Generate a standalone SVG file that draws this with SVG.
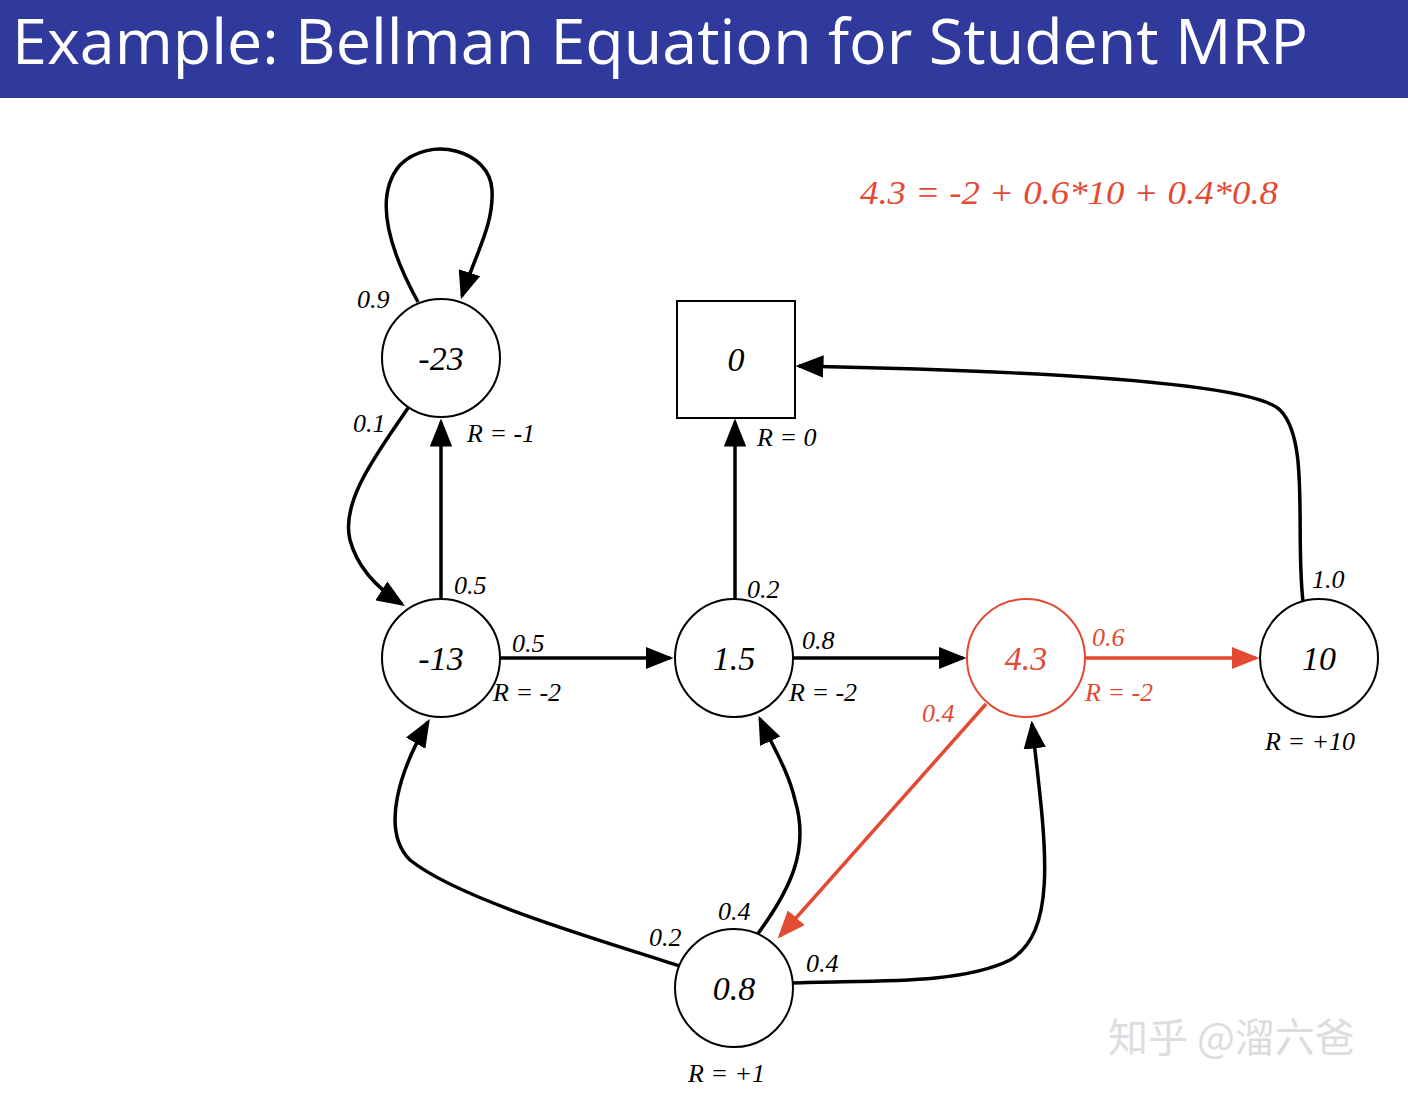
<svg xmlns="http://www.w3.org/2000/svg" width="1408" height="1094" viewBox="0 0 1408 1094">
<style>
.n{fill:#fff;stroke:#000;stroke-width:2}
.r{fill:#fff;stroke:#e24a33;stroke-width:2}
.t{font-family:"Liberation Serif","Times New Roman",serif;font-style:italic;font-size:34px;text-anchor:middle}
.l{font-family:"Liberation Serif","Times New Roman",serif;font-style:italic;font-size:26px}
.e{fill:none;stroke:#000;stroke-width:3.5}
.er{fill:none;stroke:#e24a33;stroke-width:3.5}
</style>
<defs>
<marker id="a" markerWidth="8" markerHeight="6.4" refX="7" refY="3.2" orient="auto" markerUnits="strokeWidth"><path d="M0,0L8,3.2L0,6.4z" fill="#000"/></marker>
<marker id="ar" markerWidth="8" markerHeight="6.4" refX="7" refY="3.2" orient="auto" markerUnits="strokeWidth"><path d="M0,0L8,3.2L0,6.4z" fill="#e24a33"/></marker>
</defs>
<rect width="1408" height="1094" fill="#fff"/>
<rect width="1408" height="98" fill="#2f3a9c"/>
<text x="12" y="64" font-family="Open Sans,'DejaVu Sans',sans-serif" font-size="62" fill="#fff" textLength="1296" lengthAdjust="spacingAndGlyphs">Example: Bellman Equation for Student MRP</text>
<text x="860" y="204" class="t" style="text-anchor:start" fill="#e24a33" textLength="418" lengthAdjust="spacingAndGlyphs">4.3 = -2 + 0.6*10 + 0.4*0.8</text>
<g id="edges">
<path class="e" marker-end="url(#a)" d="M418,302 C395,260 370,200 400,165 C430,135 490,150 492,190 C494,225 475,255 462,296"/>
<path class="e" marker-end="url(#a)" d="M410,405 C380,450 340,500 350,540 C358,570 380,590 402,604"/>
<path class="e" marker-end="url(#a)" d="M441,600 L441,422"/>
<path class="e" marker-end="url(#a)" d="M500,658 L670,658"/>
<path class="e" marker-end="url(#a)" d="M735,600 L735,422"/>
<path class="e" marker-end="url(#a)" d="M793,658 L963,658"/>
<path class="er" marker-end="url(#ar)" d="M1085,658 L1256,658"/>
<path class="e" marker-end="url(#a)" d="M1303,602 C1295,530 1310,440 1280,410 C1250,380 1000,370 799,366"/>
<path class="er" marker-end="url(#ar)" d="M986,704 L780,936"/>
<path class="e" marker-end="url(#a)" d="M680,966 C600,940 460,900 410,860 C380,830 400,770 428,722"/>
<path class="e" marker-end="url(#a)" d="M757,935 C790,890 810,850 795,800 C788,770 772,745 760,719"/>
<path class="e" marker-end="url(#a)" d="M792,983 C870,980 960,985 1010,960 C1060,930 1045,840 1032,724"/>
</g>
<g id="n23"><circle class="n" cx="441" cy="358" r="59"/><text class="t" x="441" y="370">-23</text></g>
<g id="n13"><circle class="n" cx="441" cy="658" r="59"/><text class="t" x="441" y="670">-13</text></g>
<g id="n15"><circle class="n" cx="734" cy="658" r="59"/><text class="t" x="734" y="670">1.5</text></g>
<g id="n43"><circle class="r" cx="1026" cy="658" r="59"/><text class="t" x="1026" y="670" fill="#e24a33">4.3</text></g>
<g id="n10"><circle class="n" cx="1319" cy="658" r="59"/><text class="t" x="1319" y="670">10</text></g>
<g id="n08"><circle class="n" cx="734" cy="988" r="59"/><text class="t" x="734" y="1000">0.8</text></g>
<g id="n0"><rect class="n" x="677" y="301" width="118" height="117"/><text class="t" x="736" y="371">0</text></g>
<g id="labels" class="l">
<text x="357" y="308">0.9</text>
<text x="353" y="432">0.1</text>
<text x="467" y="442">R = -1</text>
<text x="757" y="446">R = 0</text>
<text x="454" y="594">0.5</text>
<text x="512" y="652">0.5</text>
<text x="493" y="701">R = -2</text>
<text x="747" y="598">0.2</text>
<text x="802" y="649">0.8</text>
<text x="789" y="701">R = -2</text>
<text x="1092" y="646" fill="#e24a33">0.6</text>
<text x="1085" y="701" fill="#e24a33">R = -2</text>
<text x="922" y="722" fill="#e24a33">0.4</text>
<text x="1312" y="588">1.0</text>
<text x="1265" y="750">R = +10</text>
<text x="718" y="920">0.4</text>
<text x="649" y="946">0.2</text>
<text x="806" y="972">0.4</text>
<text x="688" y="1082">R = +1</text>
</g>
<text x="1108" y="1052" font-family="'Noto Sans CJK SC',sans-serif" font-size="40" fill="#ddd">知乎 @溜六爸</text>
</svg>
